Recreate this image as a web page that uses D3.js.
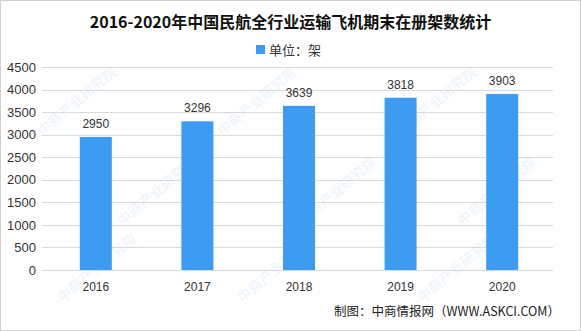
<!DOCTYPE html>
<html>
<head>
<meta charset="utf-8">
<script src="https://cdn.jsdelivr.net/npm/d3@7"></script>
<style>
  body { margin: 0; background: #fff; }
  svg { display: block; font-family: "Noto Sans CJK SC", "DejaVu Sans", sans-serif; }
</style>
</head>
<body>
<svg id="chart" width="581" height="331"></svg>
<script>
// data
var years = ["2016", "2017", "2018", "2019", "2020"];
var planes = [2950, 3296, 3639, 3818, 3903];
var yTicks = [0, 500, 1000, 1500, 2000, 2500, 3000, 3500, 4000, 4500];

var W = 581, H = 331;
var margin = { top: 67, right: 28, bottom: 61, left: 45 };
var barColor = "#3d9bf1";

var svg = d3.select("#chart");

// light frame round the whole picture
svg.append("rect")
  .attr("x", 0.5).attr("y", 0.5)
  .attr("width", W - 1).attr("height", H - 1)
  .attr("fill", "#fff")
  .attr("stroke", "#d0d0d0");

// faint watermarks
var marks = [[80, 105], [260, 105], [440, 105], [160, 195], [340, 195], [500, 195], [100, 272], [280, 272], [460, 272]];
svg.append("g").selectAll("text")
  .data(marks)
  .enter().append("text")
  .attr("transform", function (d) { return "translate(" + d[0] + "," + d[1] + ") rotate(-40)"; })
  .attr("text-anchor", "middle")
  .style("font-size", "14px")
  .style("font-weight", "bold")
  .attr("fill", "#5b9bd5")
  .attr("fill-opacity", 0.1)
  .text("中商产业研究院");

var plotW = W - margin.left - margin.right,
  plotH = H - margin.top - margin.bottom;

var g = svg.append("g")
  .attr("transform", "translate(" + margin.left + "," + margin.top + ")");

var x = d3.scaleBand()
  .domain(years)
  .range([0, plotW])
  .paddingInner(0.685)
  .paddingOuter(0.3425);

var y = d3.scaleLinear()
  .domain([0, 4500])
  .range([plotH, 0]);

// grid lines
g.append("g")
  .selectAll("line")
  .data(yTicks)
  .enter().append("line")
  .attr("x1", -3).attr("x2", plotW)
  .attr("y1", function (d) { return Math.round(y(d)) + 0.5; })
  .attr("y2", function (d) { return Math.round(y(d)) + 0.5; })
  .attr("stroke", "#d9d9d9");

// y axis labels
var yAxis = g.append("g")
  .call(d3.axisLeft(y).tickValues(yTicks).tickFormat(d3.format("d")).tickSize(0).tickPadding(9));
yAxis.select(".domain").remove();
yAxis.selectAll("text")
  .style("font-size", "13px")
  .style("font-family", "'Liberation Sans', sans-serif")
  .attr("fill", "#333");

// x axis labels
var xAxis = g.append("g")
  .attr("transform", "translate(0," + plotH + ")")
  .call(d3.axisBottom(x).tickSize(0).tickPadding(12));
xAxis.select(".domain").remove();
xAxis.selectAll("text")
  .style("font-size", "12px")
  .style("font-family", "'Liberation Sans', sans-serif")
  .attr("fill", "#333");

// bars
g.selectAll(".bar")
  .data(planes)
  .enter().append("rect")
  .attr("class", "bar")
  .attr("x", function (d, i) { return x(years[i]); })
  .attr("y", function (d) { return y(d); })
  .attr("width", x.bandwidth())
  .attr("height", function (d) { return plotH - y(d); })
  .attr("fill", barColor);

// value labels
g.selectAll(".val")
  .data(planes)
  .enter().append("text")
  .attr("class", "val")
  .attr("x", function (d, i) { return x(years[i]) + x.bandwidth() / 2; })
  .attr("y", function (d) { return y(d) - 9; })
  .attr("text-anchor", "middle")
  .style("font-size", "12px")
  .style("font-family", "'Liberation Sans', sans-serif")
  .attr("fill", "#333")
  .text(function (d) { return d; });

// title
svg.append("text")
  .attr("x", W / 2).attr("y", 28)
  .attr("text-anchor", "middle")
  .style("font-size", "16px")
  .style("font-weight", "bold")
  .attr("fill", "#111")
  .text("2016-2020年中国民航全行业运输飞机期末在册架数统计");

// legend
var leg = svg.append("g").attr("transform", "translate(256,50)");
leg.append("rect")
  .attr("x", 0).attr("y", -5)
  .attr("width", 9).attr("height", 9)
  .attr("fill", barColor);
leg.append("text")
  .attr("x", 13).attr("y", 0)
  .attr("dy", "0.35em")
  .style("font-size", "13px")
  .attr("fill", "#333")
  .text("单位：架");

// source
svg.append("text")
  .attr("x", 560).attr("y", 316)
  .attr("text-anchor", "end")
  .style("font-size", "12.5px")
  .attr("fill", "#222")
  .text("制图：中商情报网（WWW.ASKCI.COM）");
</script>
</body>
</html>
